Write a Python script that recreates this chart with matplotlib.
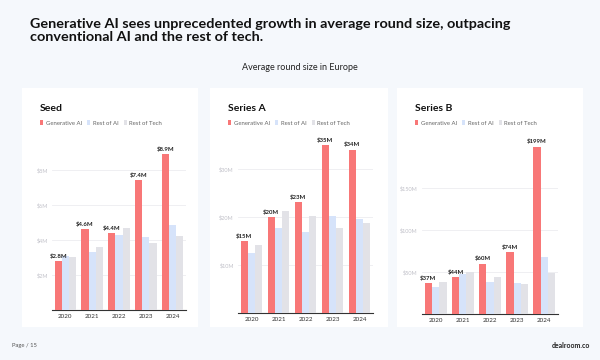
import numpy as np
import matplotlib
matplotlib.use("Agg")
import matplotlib.pyplot as plt
from matplotlib.patches import Rectangle, Patch

plt.rcParams['font.family'] = ['Lato', 'DejaVu Sans']

years = ["2020", "2021", "2022", "2023", "2024"]
series_names = ["Generative AI", "Rest of AI", "Rest of Tech"]

# average round size, $M
seed_gen = [2.8, 4.6, 4.4, 7.4, 8.9]
seed_ai = [3.1, 3.3, 4.3, 4.15, 4.85]
seed_tech = [3.05, 3.6, 4.7, 3.85, 4.25]
seed_labels = ["$2.8M", "$4.6M", "$4.4M", "$7.4M", "$8.9M"]
seed_ticks = [2, 4, 6, 8]
seed_ticklabels = ["$2M", "$4M", "$6M", "$8M"]

a_gen = [15, 20, 23, 35, 34]
a_ai = [12.5, 17.7, 16.8, 20.1, 19.5]
a_tech = [14.2, 21.3, 20.1, 17.7, 18.8]
a_labels = ["$15M", "$20M", "$23M", "$35M", "$34M"]
a_ticks = [10, 20, 30]
a_ticklabels = ["$10M", "$20M", "$30M"]

b_gen = [37, 44, 60, 74, 199]
b_ai = [32.5, 47.2, 37.7, 36.5, 68.2]
b_tech = [38.5, 50, 43.7, 35.7, 49.2]
b_labels = ["$37M", "$44M", "$60M", "$74M", "$199M"]
b_ticks = [50, 100, 150]
b_ticklabels = ["$50M", "$100M", "$150M"]

colors = ["#f87777", "#d6e3fa", "#e2e2e7"]
bg = "#f5f8fc"

W, H = 600, 360
fig = plt.figure(figsize=(6, 3.6), dpi=100, facecolor=bg)

def fx(px):
    return px / W

def fy(py):
    return 1 - py / H

fig.text(fx(30), fy(30.5), "Generative AI sees unprecedented growth in average round size, outpacing\nconventional AI and the rest of tech.",
         fontsize=10.4, fontweight="bold", color="#111111", va="center", linespacing=1.15)
fig.text(0.5, fy(67), "Average round size in Europe", fontsize=6.5, color="#222222", ha="center", va="center")
fig.text(fx(12), fy(346), "Page / 15", fontsize=4.2, color="#555555", va="center")
fig.text(fx(590), fy(346), "dealroom.co", fontsize=5, fontweight="bold", color="#222222", ha="right", va="center")

panels = [
    ("Seed", (22, 198), (52, 186), 310, 9.7, seed_gen, seed_ai, seed_tech, seed_labels, seed_ticks, seed_ticklabels),
    ("Series A", (210, 388), (238, 373), 313, 36, a_gen, a_ai, a_tech, a_labels, a_ticks, a_ticklabels),
    ("Series B", (397, 583), (422, 558), 314, 207, b_gen, b_ai, b_tech, b_labels, b_ticks, b_ticklabels),
]

x = np.arange(len(years))
w = 0.27
for title, card, axx, base, ytop, gen, ai, tech, labels, ticks, ticklabels in panels:
    fig.patches.append(Rectangle((fx(card[0]), fy(327)), fx(card[1] - card[0]), (327 - 88) / H,
                                 transform=fig.transFigure, facecolor="white", edgecolor="none", zorder=-5))
    fig.text(fx(card[0] + 18), fy(108), title, fontsize=7.5, fontweight="bold", color="#111111", va="center")
    top = 140
    ax = fig.add_axes([fx(axx[0]), fy(base), fx(axx[1] - axx[0]), (base - top) / H])
    ax.set_facecolor("none")
    ax.bar(x - w, gen, w, color=colors[0], zorder=3)
    ax.bar(x, ai, w, color=colors[1], zorder=3)
    ax.bar(x + w, tech, w, color=colors[2], zorder=3)
    for xi, v, lab in zip(x, gen, labels):
        ax.text(xi - w, v + ytop * 0.012, lab, ha="center", va="bottom", fontsize=4.3,
                fontweight="bold", color="#222222")
    ax.set_xlim(-0.5, 4.5)
    ax.set_ylim(0, ytop)
    ax.set_xticks(x)
    ax.set_xticklabels(years, fontsize=4.5, color="#333333")
    ax.set_yticks(ticks)
    ax.set_yticklabels(ticklabels, fontsize=4, color="#c0c0c8")
    ax.tick_params(length=0, pad=3)
    ax.grid(axis="y", color="#ececf0", linewidth=0.6, zorder=0)
    for s in ["top", "right", "left"]:
        ax.spines[s].set_visible(False)
    ax.spines["bottom"].set_color("#333333")
    ax.spines["bottom"].set_linewidth(0.8)
    handles = [Patch(facecolor=c, edgecolor="none") for c in colors]
    fig.legend(handles, series_names, loc="center left", bbox_to_anchor=(fx(card[0] + 13), fy(123)),
               ncol=3, frameon=False, fontsize=4.3, handlelength=0.5, handleheight=1.0,
               handletextpad=0.4, columnspacing=0.9, labelcolor="#666666")

fig.savefig("out.png", dpi=100, facecolor=bg)
